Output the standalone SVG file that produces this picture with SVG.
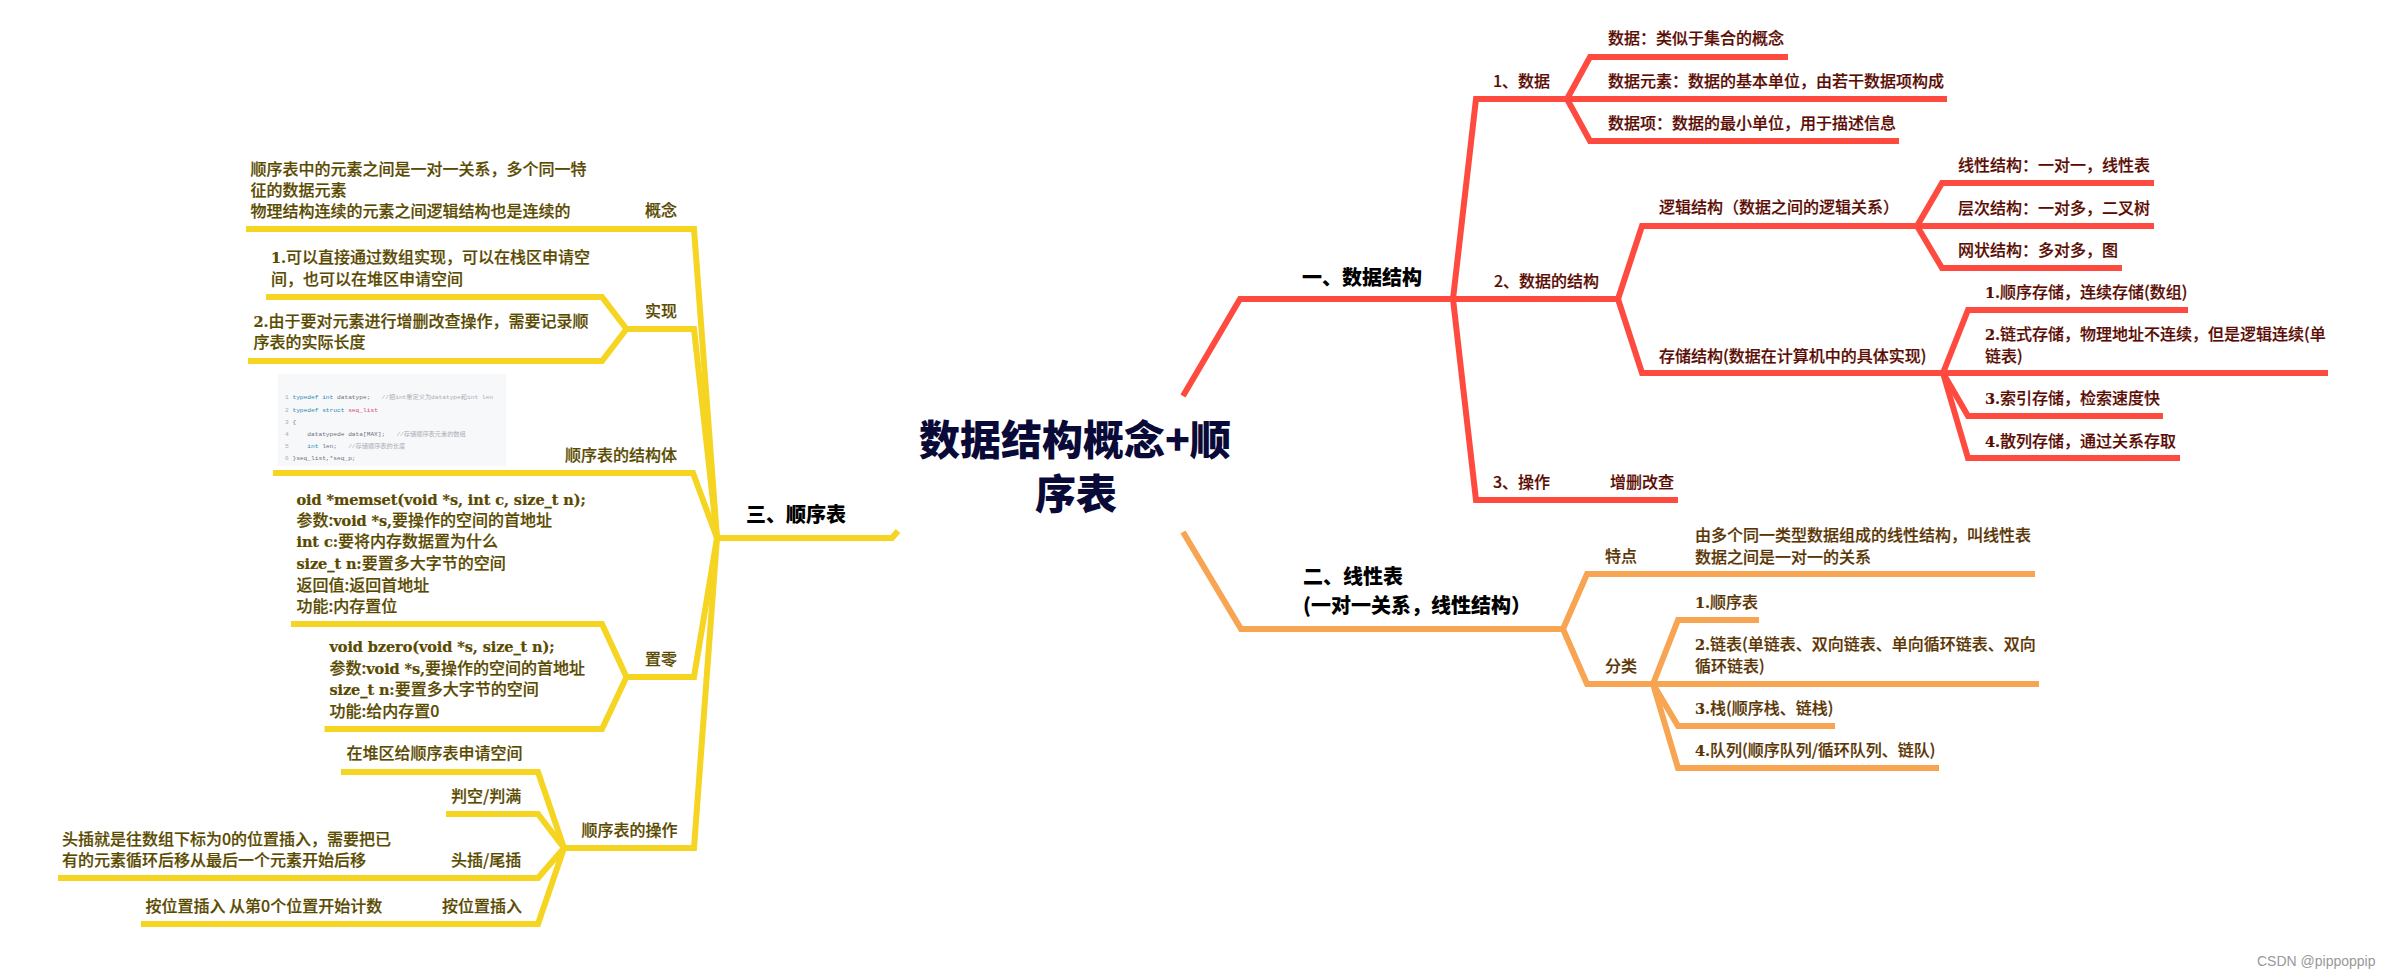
<svg xmlns="http://www.w3.org/2000/svg" width="2391" height="978" viewBox="0 0 2391 978">
<style>
text{font-family:"Noto Sans CJK SC","Noto Sans",sans-serif;font-size:16px;font-weight:500;white-space:pre}
.r{fill:#5a0b02;stroke:#5a0b02;stroke-width:.2}.o{fill:#5a3503;stroke:#5a3503;stroke-width:.2}.y{fill:#5a4a00;stroke:#5a4a00;stroke-width:.2}
.b{font-size:20px;font-weight:900;fill:#000}
.c{font-size:41px;font-weight:900;fill:#0a0a38;text-anchor:middle}
.l{font-family:"DejaVu Serif",serif;font-weight:700;font-size:14.5px;letter-spacing:-.1px}
.cl{fill:none;stroke-width:6;stroke-linejoin:miter}
.cr{stroke:#ff4a40}.co{stroke:#f7a552}.cy{stroke:#f5d422}
.m{font-family:"Liberation Mono","Noto Sans CJK SC",monospace;font-size:6.2px;font-weight:400;fill:#6b7280}
.k{fill:#2b8cb3}.p{fill:#d8476e}.g{fill:#a8adb5}
.w{font-family:"Liberation Sans",Arial,sans-serif;font-size:14px;font-weight:400;fill:#999}
</style>
<rect width="2391" height="978" fill="#fff"/>
<g id="connectors">
<g class="cl cr">
<polyline points="1183,396 1240,299 1618,299"/>
<polyline points="1453,299 1476,99 1567,99"/>
<polyline points="1453,299 1476,500 1678,500"/>
<polyline points="1567,99 1590,57 1788,57"/>
<polyline points="1567,99 1947,99"/>
<polyline points="1567,99 1590,141 1899,141"/>
<polyline points="1618,299 1642,226 1917,226"/>
<polyline points="1618,299 1642,373 1943,373"/>
<polyline points="1917,226 1942,183 2154,183"/>
<polyline points="1917,226 2154,226"/>
<polyline points="1917,226 1942,268 2122,268"/>
<polyline points="1943,373 1968,310 2188,310"/>
<polyline points="1943,373 2328,373"/>
<polyline points="1943,373 1968,416 2163,416"/>
<polyline points="1943,373 1968,458 2180,458"/>
</g>
<g class="cl co">
<polyline points="1183,532 1241,629 1563,629"/>
<polyline points="1563,629 1587,574 2035,574"/>
<polyline points="1563,629 1587,684 2039,684"/>
<polyline points="1653,684 1678,620 1759,620"/>
<polyline points="1653,684 1678,726 1835,726"/>
<polyline points="1653,684 1678,768 1939,768"/>
</g>
<g class="cl cy">
<polyline points="898,531 892,538 717,538"/>
<polyline points="717,538 694,229 246,229"/>
<polyline points="717,538 694,329 626.5,329"/>
<polyline points="626.5,329 602,297 266,297"/>
<polyline points="626.5,329 602,361 248,361"/>
<polyline points="717,538 693,473 273,473"/>
<polyline points="717,538 694,677 626.5,677"/>
<polyline points="626.5,677 602,624 291,624"/>
<polyline points="626.5,677 602,729 324.5,729"/>
<polyline points="717,538 694,848 564,848"/>
<polyline points="564,848 538,772 341,772"/>
<polyline points="564,848 538,814 446,814"/>
<polyline points="564,848 538,878 58,878"/>
<polyline points="564,848 538,924 141,924"/>
</g>
</g>
<g id="root"><text class="c" x="1075" y="455">数据结构概念+顺</text><text class="c" x="1076" y="509">序表</text></g>
<g id="n1"><text class="b" x="1302" y="285">一、数据结构</text></g>
<g id="n1-1"><text class="r" x="1493" y="87">1、数据</text></g>
<g id="n1-1-1"><text class="r" x="1608" y="44">数据：类似于集合的概念</text></g>
<g id="n1-1-2"><text class="r" x="1608" y="87">数据元素：数据的基本单位，由若干数据项构成</text></g>
<g id="n1-1-3"><text class="r" x="1608" y="129">数据项：数据的最小单位，用于描述信息</text></g>
<g id="n1-2"><text class="r" x="1494" y="287">2、数据的结构</text></g>
<g id="n1-2-1"><text class="r" x="1659" y="213">逻辑结构（数据之间的逻辑关系）</text></g>
<g id="n1-2-1-1"><text class="r" x="1958" y="171">线性结构：一对一，线性表</text></g>
<g id="n1-2-1-2"><text class="r" x="1958" y="213.500">层次结构：一对多，二叉树</text></g>
<g id="n1-2-1-3"><text class="r" x="1958" y="256">网状结构：多对多，图</text></g>
<g id="n1-2-2"><text class="r" x="1659" y="362">存储结构(数据在计算机中的具体实现)</text></g>
<g id="n1-2-2-1"><text class="r" x="1985" y="298"><tspan class="l">1.</tspan>顺序存储，连续存储(数组)</text></g>
<g id="n1-2-2-2"><text class="r" x="1985" y="340"><tspan class="l">2.</tspan>链式存储，物理地址不连续，但是逻辑连续(单</text><text class="r" x="1985" y="362">链表)</text></g>
<g id="n1-2-2-3"><text class="r" x="1985" y="404"><tspan class="l">3.</tspan>索引存储，检索速度快</text></g>
<g id="n1-2-2-4"><text class="r" x="1985" y="447"><tspan class="l">4.</tspan>散列存储，通过关系存取</text></g>
<g id="n1-3"><text class="r" x="1493" y="488">3、操作</text></g>
<g id="n1-3-1"><text class="r" x="1610" y="488">增删改查</text></g>
<g id="n2"><text class="b" x="1303" y="584">二、线性表</text><text class="b" x="1303" y="613">(一对一关系，线性结构）</text></g>
<g id="n2-1"><text class="o" x="1605" y="562">特点</text></g>
<g id="n2-1-1"><text class="o" x="1695" y="541">由多个同一类型数据组成的线性结构，叫线性表</text><text class="o" x="1695" y="562.500">数据之间是一对一的关系</text></g>
<g id="n2-2"><text class="o" x="1605" y="672">分类</text></g>
<g id="n2-2-1"><text class="o" x="1695" y="608"><tspan class="l">1.</tspan>顺序表</text></g>
<g id="n2-2-2"><text class="o" x="1695" y="650"><tspan class="l">2.</tspan>链表(单链表、双向链表、单向循环链表、双向</text><text class="o" x="1695" y="672">循环链表)</text></g>
<g id="n2-2-3"><text class="o" x="1695" y="714"><tspan class="l">3.</tspan>栈(顺序栈、链栈)</text></g>
<g id="n2-2-4"><text class="o" x="1695" y="756"><tspan class="l">4.</tspan>队列(顺序队列/循环队列、链队)</text></g>
<g id="n3"><text class="b" x="746" y="522">三、顺序表</text></g>
<g id="n3-1"><text class="y" x="645" y="216">概念</text></g>
<g id="n3-1-1"><text class="y" x="250.500" y="175">顺序表中的元素之间是一对一关系，多个同一特</text><text class="y" x="250.500" y="196">征的数据元素</text><text class="y" x="250.500" y="217">物理结构连续的元素之间逻辑结构也是连续的</text></g>
<g id="n3-2"><text class="y" x="645" y="317">实现</text></g>
<g id="n3-2-1"><text class="y" x="271" y="263"><tspan class="l">1.</tspan>可以直接通过数组实现，可以在栈区申请空</text><text class="y" x="271" y="284.500">间，也可以在堆区申请空间</text></g>
<g id="n3-2-2"><text class="y" x="253.500" y="327"><tspan class="l">2.</tspan>由于要对元素进行增删改查操作，需要记录顺</text><text class="y" x="253.500" y="348">序表的实际长度</text></g>
<g id="n3-3"><text class="y" x="565" y="461">顺序表的结构体</text></g>
<g id="n3-3-1">
<rect x="278" y="374" width="228" height="92" fill="#f7f8fa"/>
<text class="m" x="285" y="399"><tspan class="g">1</tspan> <tspan class="k">typedef int</tspan> datatype;   <tspan class="g">//把int重定义为datatype和int len</tspan></text>
<text class="m" x="285" y="412"><tspan class="g">2</tspan> <tspan class="k">typedef struct</tspan> <tspan class="p">seq_list</tspan></text>
<text class="m" x="285" y="424"><tspan class="g">3</tspan> {</text>
<text class="m" x="285" y="436"><tspan class="g">4</tspan>     datatypede data[MAX];   <tspan class="g">//存储顺序表元素的数组</tspan></text>
<text class="m" x="285" y="448"><tspan class="g">5</tspan>     <tspan class="k">int</tspan> len;   <tspan class="g">//存储顺序表的长度</tspan></text>
<text class="m" x="285" y="460"><tspan class="g">6</tspan> }seq_list,*seq_p;</text>
</g>
<g id="n3-4"><text class="y" x="645" y="665">置零</text></g>
<g id="n3-4-1">
<text class="y" x="296.500" y="505"><tspan class="l">oid *memset(void *s, int c, size_t n);</tspan></text>
<text class="y" x="296.500" y="526">参数:<tspan class="l">void *s,</tspan>要操作的空间的首地址</text>
<text class="y" x="296.500" y="547"><tspan class="l">int c:</tspan>要将内存数据置为什么</text>
<text class="y" x="296.500" y="569"><tspan class="l">size_t n:</tspan>要置多大字节的空间</text>
<text class="y" x="296.500" y="590.500">返回值:返回首地址</text>
<text class="y" x="296.500" y="611.500">功能:内存置位</text>
</g>
<g id="n3-4-2">
<text class="y" x="329.500" y="652"><tspan class="l">void bzero(void *s, size_t n);</tspan></text>
<text class="y" x="329.500" y="673.500">参数:<tspan class="l">void *s,</tspan>要操作的空间的首地址</text>
<text class="y" x="329.500" y="695"><tspan class="l">size_t n:</tspan>要置多大字节的空间</text>
<text class="y" x="329.500" y="716.500">功能:给内存置0</text>
</g>
<g id="n3-5"><text class="y" x="581.500" y="836">顺序表的操作</text></g>
<g id="n3-5-1"><text class="y" x="346.500" y="759">在堆区给顺序表申请空间</text></g>
<g id="n3-5-2"><text class="y" x="451" y="802">判空/判满</text></g>
<g id="n3-5-3"><text class="y" x="451" y="865.500">头插/尾插</text></g>
<g id="n3-5-3-1"><text class="y" x="62" y="844.500">头插就是往数组下标为0的位置插入，需要把已</text><text class="y" x="62" y="865.500">有的元素循环后移从最后一个元素开始后移</text></g>
<g id="n3-5-4"><text class="y" x="442" y="912">按位置插入</text></g>
<g id="n3-5-4-1"><text class="y" x="145.500" y="912">按位置插入 从第0个位置开始计数</text></g>
<text class="w" x="2257" y="966">CSDN @pippoppip</text>
</svg>
